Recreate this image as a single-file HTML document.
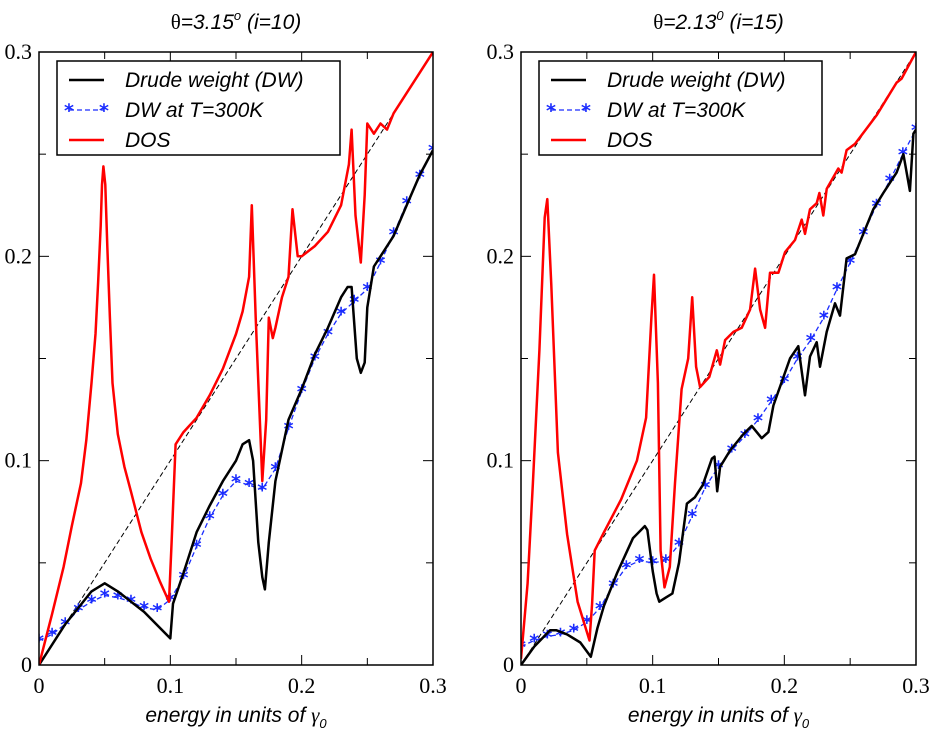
<!DOCTYPE html>
<html><head><meta charset="utf-8"><style>
html,body{margin:0;padding:0;background:#fff}
svg{display:block}
.tk{font-family:"Liberation Serif",serif;font-size:22px}
.it{font-family:"Liberation Sans",sans-serif;font-style:italic;font-size:21px}
</style></head><body>
<svg id="c" width="933" height="734" xmlns="http://www.w3.org/2000/svg"></svg>
<script>
const xTicks=[0,0.1,0.2,0.3];
const yTicks=[0,0.1,0.2,0.3];
const tickLabels=["0","0.1","0.2","0.3"];
const titles=["3.15","2.13"];
const titleSup=["o","0"];
const titleIdx=["(i=10)","(i=15)"];
const leftDosX=[0,0.01,0.0187,0.025,0.032,0.036,0.04,0.043,0.045,0.047,0.048,0.049,0.0505,0.052,0.054,0.056,0.06,0.065,0.07,0.078,0.085,0.092,0.099,0.101,0.104,0.11,0.12,0.13,0.14,0.15,0.155,0.16,0.162,0.165,0.17,0.173,0.175,0.178,0.18,0.185,0.19,0.193,0.197,0.2,0.21,0.22,0.23,0.236,0.238,0.241,0.245,0.248,0.25,0.255,0.26,0.265,0.27,0.28,0.29,0.3];
const leftDosY=[0,0.025,0.048,0.068,0.089,0.11,0.138,0.162,0.187,0.215,0.235,0.244,0.235,0.205,0.17,0.138,0.113,0.097,0.085,0.065,0.052,0.041,0.031,0.06,0.108,0.114,0.121,0.132,0.145,0.162,0.173,0.19,0.225,0.17,0.09,0.12,0.17,0.16,0.165,0.18,0.19,0.223,0.2,0.2,0.205,0.212,0.225,0.245,0.262,0.22,0.197,0.23,0.265,0.26,0.265,0.262,0.27,0.28,0.29,0.3];
const leftDwX=[0,0.02,0.04,0.05,0.06,0.08,0.1,0.102,0.11,0.12,0.13,0.14,0.15,0.155,0.16,0.163,0.167,0.17,0.172,0.175,0.18,0.19,0.2,0.21,0.22,0.23,0.235,0.238,0.242,0.245,0.248,0.25,0.255,0.26,0.27,0.28,0.29,0.3];
const leftDwY=[0,0.02,0.036,0.04,0.036,0.026,0.013,0.03,0.045,0.065,0.078,0.09,0.1,0.108,0.11,0.1,0.06,0.043,0.037,0.06,0.09,0.12,0.135,0.152,0.165,0.18,0.185,0.185,0.15,0.143,0.148,0.175,0.195,0.2,0.21,0.225,0.24,0.252];
const tempX=[0,0.01,0.02,0.03,0.04,0.05,0.06,0.07,0.08,0.09,0.1,0.11,0.12,0.13,0.14,0.15,0.16,0.17,0.18,0.19,0.2,0.21,0.22,0.23,0.24,0.25,0.26,0.27,0.28,0.29,0.3];
const leftTY=[0.012,0.015,0.02,0.027,0.031,0.034,0.033,0.031,0.028,0.027,0.032,0.043,0.058,0.072,0.083,0.09,0.088,0.086,0.096,0.116,0.134,0.15,0.162,0.172,0.178,0.184,0.197,0.211,0.226,0.239,0.252];
const rightDosX=[0,0.005,0.009,0.014,0.018,0.02,0.023,0.028,0.035,0.043,0.052,0.054,0.056,0.063,0.076,0.088,0.095,0.099,0.101,0.104,0.106,0.109,0.113,0.117,0.122,0.127,0.13,0.133,0.136,0.143,0.1487,0.1512,0.155,0.1613,0.1676,0.174,0.1778,0.1816,0.1854,0.1891,0.1955,0.2005,0.2081,0.2132,0.2157,0.2195,0.2246,0.2266,0.2296,0.2322,0.241,0.2435,0.2473,0.2537,0.2701,0.2853,0.2891,0.3];
const rightDosY=[0.003,0.04,0.089,0.154,0.219,0.228,0.186,0.104,0.064,0.031,0.012,0.03,0.056,0.065,0.081,0.1,0.121,0.17,0.191,0.138,0.056,0.038,0.048,0.089,0.135,0.15,0.18,0.146,0.136,0.141,0.154,0.147,0.159,0.163,0.165,0.174,0.194,0.174,0.165,0.192,0.192,0.202,0.208,0.218,0.211,0.223,0.226,0.231,0.22,0.233,0.243,0.241,0.252,0.255,0.269,0.285,0.287,0.3];
const rightDwX=[0,0.01,0.022,0.027,0.035,0.045,0.053,0.058,0.063,0.073,0.085,0.094,0.096,0.1,0.103,0.105,0.11,0.115,0.12,0.126,0.132,0.138,0.145,0.147,0.149,0.1512,0.1588,0.1689,0.1752,0.1828,0.1879,0.1917,0.2043,0.2106,0.2157,0.2195,0.2246,0.2271,0.2322,0.2385,0.2423,0.2473,0.2537,0.2676,0.2752,0.2853,0.2904,0.2954,0.298,0.3];
const rightDwY=[0,0.009,0.017,0.017,0.015,0.011,0.004,0.018,0.029,0.045,0.062,0.068,0.066,0.046,0.035,0.031,0.033,0.035,0.05,0.079,0.082,0.088,0.101,0.102,0.085,0.097,0.105,0.113,0.117,0.111,0.114,0.127,0.15,0.156,0.132,0.151,0.158,0.146,0.163,0.177,0.171,0.199,0.201,0.223,0.231,0.241,0.25,0.232,0.26,0.262];
const rightTY=[0.009,0.012,0.014,0.015,0.017,0.021,0.028,0.039,0.048,0.051,0.05,0.051,0.059,0.073,0.087,0.097,0.105,0.112,0.12,0.129,0.139,0.15,0.159,0.17,0.184,0.197,0.211,0.225,0.237,0.25,0.262];

const NS="http://www.w3.org/2000/svg";
const svg=document.getElementById('c');
function mk(tag,attrs,parent){const e=document.createElementNS(NS,tag);for(const k in attrs)e.setAttribute(k,attrs[k]);(parent||svg).appendChild(e);return e;}
const panels=[
 {x0:39,x1:433,dos:[leftDosX,leftDosY],dw:[leftDwX,leftDwY],t:leftTY},
 {x0:521,x1:916,dos:[rightDosX,rightDosY],dw:[rightDwX,rightDwY],t:rightTY}];
const Y0=665,Y1=52;
function star(x,y,parent){const s=mk('text',{x:x,y:y+7,'text-anchor':'middle',fill:'#1a2cff','font-size':'19px','font-weight':'bold','font-family':'DejaVu Sans,sans-serif'},parent);s.textContent='*';return s;}
panels.forEach((p,pi)=>{
 const g=mk('g',{});
 
 
 const sx=v=>p.x0+(p.x1-p.x0)*v/0.3, sy=v=>Y0-(Y0-Y1)*v/0.3;
 const cid='clip'+pi;
 const cp=mk('clipPath',{id:cid},g);mk('rect',{x:p.x0,y:Y1,width:p.x1-p.x0,height:Y0-Y1},cp);
 for(let i=0;i<=6;i++){const v=i*0.05,len=i%2?7:10;
  const tx=sx(v),ty=sy(v);
  mk('line',{x1:tx,y1:Y0,x2:tx,y2:Y0-len,stroke:'#000','stroke-width':1},g);
  mk('line',{x1:tx,y1:Y1,x2:tx,y2:Y1+len,stroke:'#000','stroke-width':1},g);
  mk('line',{x1:p.x0,y1:ty,x2:p.x0+len,y2:ty,stroke:'#000','stroke-width':1},g);
  mk('line',{x1:p.x1,y1:ty,x2:p.x1-len,y2:ty,stroke:'#000','stroke-width':1},g);}
 xTicks.forEach((v,i)=>{const t=mk('text',{x:sx(v),y:Y0+28,'text-anchor':'middle',class:'tk'},g);t.textContent=tickLabels[i];
  });
 yTicks.forEach((v,i)=>{const t=mk('text',{x:p.x0-7,y:sy(v)+7,'text-anchor':'end',class:'tk'},g);t.textContent=tickLabels[i];
  });
 const cg=mk('g',{'clip-path':`url(#${cid})`},g);
 const diag=mk('line',{x1:sx(0),y1:sy(0),x2:sx(0.3),y2:sy(0.3),stroke:'#000','stroke-width':1,'stroke-dasharray':'5,3'},cg);
 
 const pts=(xs,ys)=>xs.map((x,i)=>sx(x).toFixed(1)+','+sy(ys[i]).toFixed(1)).join(' ');
 const tl=mk('polyline',{points:pts(tempX,p.t),fill:'none',stroke:'#1a2cff','stroke-width':1.3,'stroke-dasharray':'5,3'},cg);
 
 tempX.forEach((x,i)=>{const m=star(sx(x),sy(p.t[i]),cg);
  });
 const dw=mk('polyline',{points:pts(p.dw[0],p.dw[1]),fill:'none',stroke:'#000','stroke-width':2.5,'stroke-linejoin':'round'},cg);
 
 const dos=mk('polyline',{points:pts(p.dos[0],p.dos[1]),fill:'none',stroke:'#ff0000','stroke-width':2.5,'stroke-linejoin':'round'},cg);
 
 const fr=mk('rect',{x:p.x0,y:Y1,width:p.x1-p.x0,height:Y0-Y1,fill:'none',stroke:'#000','stroke-width':1.5},g);
 
 const lx=p.x0+18;
 const lg=mk('g',{},g);
 mk('rect',{x:lx,y:61,width:283,height:94,fill:'#fff',stroke:'#000','stroke-width':1.5},lg);
 const ly=[80,110,140],lab=['Drude weight (DW)','DW at T=300K','DOS'],col=['#000','#1a2cff','#ff0000'];
 ly.forEach((y,i)=>{
  mk('line',{x1:lx+12,y1:y,x2:lx+47,y2:y,stroke:col[i],'stroke-width':i==1?1.3:2.5,'stroke-dasharray':i==1?'5,3':'none'},lg);
  if(i==1){[lx+12,lx+47].forEach(mx=>star(mx,y,lg));}
  const t=mk('text',{x:lx+68,y:y+7,class:'it'},lg);t.textContent=lab[i];
  });
 const tt=mk('text',{x:(p.x0+p.x1)/2,y:29,'text-anchor':'middle',class:'it'},g);
 
 const a=mk('tspan',{'font-style':'normal','font-family':'Liberation Serif,serif'},tt);a.textContent='θ';
 const b=mk('tspan',{},tt);b.textContent='='+titles[pi];
 const c=mk('tspan',{dy:-9,'font-size':'13px'},tt);c.textContent=titleSup[pi];
 const d=mk('tspan',{dy:9},tt);d.textContent=' '+titleIdx[pi];
 const xt=mk('text',{x:(p.x0+p.x1)/2,y:722,'text-anchor':'middle',class:'it'},g);
 
 const e1=mk('tspan',{},xt);e1.textContent='energy in units of ';
 const e2=mk('tspan',{'font-family':'Liberation Serif,serif'},xt);e2.textContent='γ';
 const e3=mk('tspan',{dy:6,'font-size':'13px'},xt);e3.textContent='0';
});
</script>
</body></html>
